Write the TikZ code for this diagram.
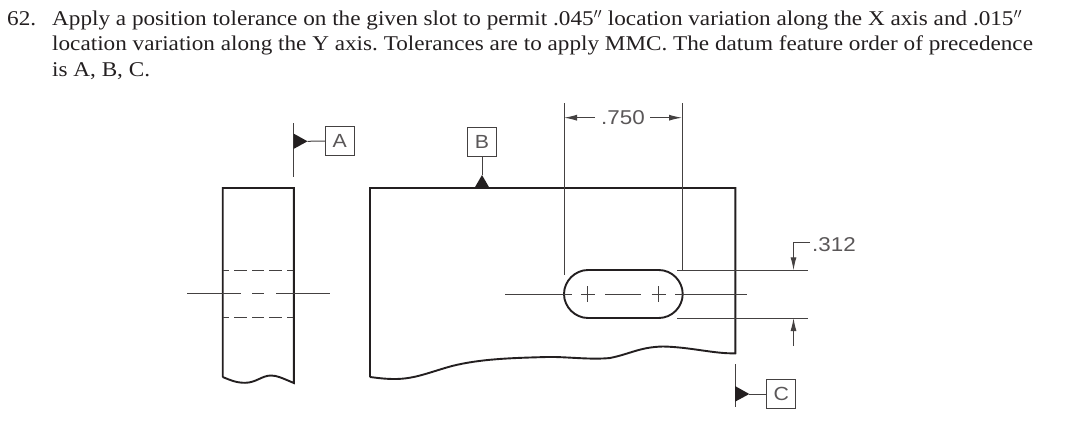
\documentclass[tikz,border=0pt]{standalone}
\usepackage{fontspec}
\setmainfont{Liberation Serif}
\setsansfont[FakeStretch=1.12]{Liberation Sans}
\newfontfamily\bodyfont[FakeStretch=1.104]{Liberation Serif}
\definecolor{ink}{HTML}{231F20}
\usetikzlibrary{arrows.meta}
\tikzset{
  thick outline/.style={draw=ink,line width=1.9pt,line join=miter},
  thin line/.style={draw=ink!85,line width=1pt},
  datumbox/.style={draw=ink!85,line width=1pt,fill=white,minimum width=28.5pt,minimum height=28.5pt,inner sep=0pt,font=\sffamily\fontsize{19}{19}\selectfont,text=ink!75},
  dimtext/.style={font=\sffamily\fontsize{20}{20}\selectfont,text=ink!75,inner sep=0pt},
  bodyline/.style={anchor=base west,inner sep=0pt,font=\bodyfont\fontsize{21}{21}\selectfont\frenchspacing,text=ink},
  dimarrow/.style={thin line,-{Latex[length=13pt,width=6pt]}},
  tri/.style={fill=ink,draw=none}
}
\begin{document}
\begin{tikzpicture}[x=1pt,y=-1pt]
\useasboundingbox (0,0) rectangle (1070,431);
% text
\node[bodyline] (n62) at (7,25.6) {62.};
\node[bodyline] (l1) at (52,25.6) {Apply a position tolerance on the given slot to permit .045$''$ location variation along the X axis and .015$''$};
\node[bodyline] (l2) at (52,50.7) {location variation along the Y axis. Tolerances are to apply MMC. The datum feature order of precedence};
\node[bodyline] (l3) at (52,76) {is A, B, C.};
% left view
\draw[thick outline] (222.7,377) -- (222.7,188) -- (293.8,188) -- (293.8,383)
  .. controls (282,378) and (277,375.5) .. (271,375.5)
  .. controls (262,375.5) and (256,382.8) .. (245,382.8)
  .. controls (236,382.8) and (230,380) .. (222.7,377);
\foreach \y in {270.3,317.7}{
  \draw[thin line] (223,\y) -- (229,\y);
  \draw[thin line] (234,\y) -- (247,\y);
  \draw[thin line] (252,\y) -- (264,\y);
  \draw[thin line] (269,\y) -- (282,\y);
  \draw[thin line] (287,\y) -- (293,\y);
}
\draw[thin line] (187,293.7) -- (241,293.7);
\draw[thin line] (252,293.7) -- (264,293.7);
\draw[thin line] (276,293.7) -- (329.5,293.7);
% main view
\draw[thick outline] (370,377) -- (370,188) -- (735.3,188) -- (735.3,353.3)
  .. controls (715,354) and (690,347) .. (663,346.5)
  .. controls (640,347) and (630,354) .. (610,358)
  .. controls (590,360) and (565,356.5) .. (547,357)
  .. controls (510,358) and (480,359) .. (452,366)
  .. controls (430,372) and (415,379) .. (395,379)
  .. controls (385,379) and (378,378) .. (370,377);
% slot
\draw[thick outline] (658.7,270) .. controls (672,270) and (682.7,281) .. (682.7,294) .. controls (682.7,307) and (672,318) .. (658.7,318) -- (588,318) .. controls (575,318) and (564,307) .. (564,294) .. controls (564,281) and (575,270) .. (588,270) -- cycle;
% centre line and crosses
\draw[thin line] (505,294) -- (572,294);
\draw[thin line] (581,294) -- (595,294);
\draw[thin line] (587.7,286) -- (587.7,302);
\draw[thin line] (605,294) -- (641,294);
\draw[thin line] (651.7,294) -- (665.7,294);
\draw[thin line] (658.5,286) -- (658.5,302);
\draw[thin line] (675,294) -- (747,294);
% extension lines
\draw[thin line] (564,103) -- (564,275);
\draw[thin line] (682,103) -- (682,270);
\draw[thin line] (677,270.3) -- (808,270.3);
\draw[thin line] (677,318) -- (808,318);
% .750
\node[dimtext] (d750) at (623,117.7) {.750};
\coordinate (eL) at (564,117.7);
\coordinate (eR) at (682,117.7);
\draw[dimarrow] (595,117.7) -- (eL);
\draw[dimarrow] (650,117.7) -- (eR);
% .312
\node[dimtext,anchor=base west] (d312) at (812,251) {.312};
\coordinate (tA) at (793.5,270.3);
\coordinate (tB) at (793.5,318);
\draw[dimarrow] (810,242.3) -- (793.5,242.3) -- (tA);
\draw[dimarrow] (793.5,346) -- (tB);
% datum A
\node[datumbox] (A) at (339.8,141) {A};
\draw[thin line] (293.5,123) -- (293.5,177);
\coordinate (ta) at (307.5,141.3);
\fill[tri] (293.5,133.5) -- (ta) -- (293.5,149) -- cycle;
\draw[thin line] (ta) -- (A.west);
% datum B
\node[datumbox] (B) at (482,142) {B};
\coordinate (tb) at (482,175);
\fill[tri] (474.5,188) -- (tb) -- (489.5,188) -- cycle;
\draw[thin line] (B.south) -- (tb);
% datum C
\node[datumbox] (C) at (781.2,394) {C};
\draw[thin line] (735,364.3) -- (735,406.7);
\coordinate (tc) at (749.3,394);
\fill[tri] (735,386) -- (tc) -- (735,401.7) -- cycle;
\draw[thin line] (tc) -- (C.west);
\end{tikzpicture}
\end{document}
